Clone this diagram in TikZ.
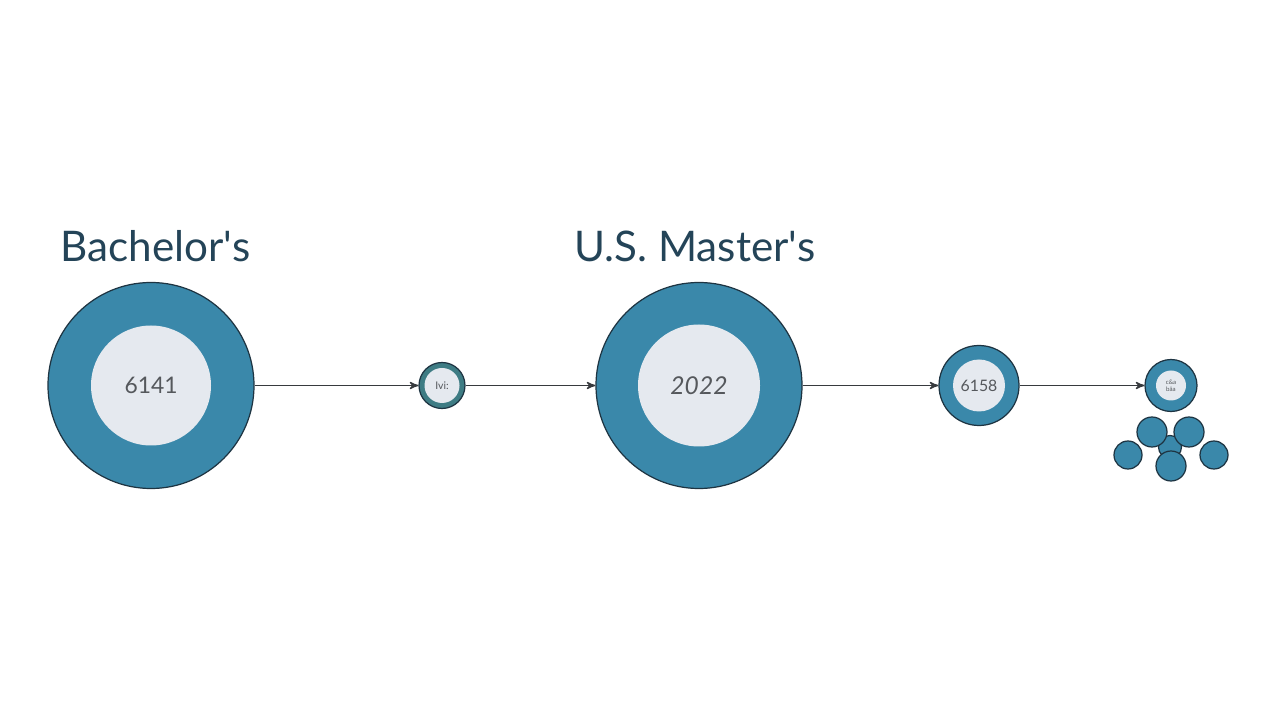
\documentclass[tikz,border=0pt]{standalone}
\usepackage{fontspec}
\setmainfont{Lato}
\usepackage{tikz}
\usetikzlibrary{arrows}
\definecolor{ring_blue}{RGB}{58,136,170}
\definecolor{ring_teal}{RGB}{62,124,132}
\definecolor{edge_dark}{RGB}{30,52,66}
\definecolor{core_gray}{RGB}{229,233,239}
\definecolor{text_slate}{RGB}{36,68,88}
\definecolor{digit_gray}{RGB}{85,88,92}
\definecolor{line_gray}{RGB}{55,58,62}

\begin{document}
\begin{tikzpicture}[->,semithick,>=stealth']
    \tikzstyle{ring}=[draw=edge_dark, circle, fill=ring_blue, line width=0.7pt, inner sep=0pt]
    \tikzstyle{core}=[draw=none, circle, fill=core_gray, inner sep=0pt, text=digit_gray]
    \tikzstyle{title}=[anchor=base west, text=text_slate, font=\fontsize{24}{28}\selectfont]
    \tikzstyle{bead}=[style=ring, minimum size=0.60cm]
    \tikzstyle{link}=[draw=line_gray, line width=0.8pt]

    \useasboundingbox[fill=white] (0,0) rectangle (25.6,14.4);

    \node[title] (tbach) at (1.08,9.16)  {Bachelor\textquotesingle s};
    \node[title] (tmast) at (11.36,9.16) {U.S. Master\textquotesingle s};

    \node[ring, minimum size=4.12cm] (bach) at (3.02,6.69)  {};
    \node[core, minimum size=2.40cm] (bachc) at (3.02,6.69) {\fontsize{13}{15}\selectfont 6141};
    \node[ring, fill=ring_teal, minimum size=0.92cm] (gap) at (8.84,6.69) {};
    \node[core, minimum size=0.70cm] (gapc) at (8.84,6.69)  {\fontsize{6}{7}\selectfont Ivi:};
    \node[ring, minimum size=4.12cm] (mast) at (13.98,6.69) {};
    \node[core, minimum size=2.44cm] (mastc) at (13.98,6.69) {\fontsize{14}{16}\selectfont\itshape 2022};
    \node[ring, minimum size=1.60cm] (opt) at (19.58,6.69)  {};
    \node[core, minimum size=1.04cm] (optc) at (19.58,6.69) {\fontsize{9}{10}\selectfont 6158};
    \node[ring, minimum size=1.04cm] (job) at (23.42,6.69)  {};
    \node[core, minimum size=0.60cm] (jobc) at (23.42,6.69) {};
    \node[text=digit_gray, align=center, inner sep=0pt, font=\fontsize{3.5}{4}\selectfont] (jobt) at (23.42,6.69) {c\&a\\ b\"aa};

    % cluster below the last node
    \node[bead, minimum size=0.46cm] (bmid) at (23.40,5.46) {};
    \node[bead] (btl) at (23.04,5.76) {};
    \node[bead] (btr) at (23.78,5.76) {};
    \node[bead, minimum size=0.56cm] (bl) at (22.56,5.30) {};
    \node[bead, minimum size=0.56cm] (br) at (24.28,5.30) {};
    \node[bead] (bbot) at (23.42,5.08) {};

    \path
     (bach) edge[link] (gap)
     (gap)  edge[link] (mast)
     (mast) edge[link] (opt)
     (opt)  edge[link] (job)
     ;
\end{tikzpicture}
\end{document}
